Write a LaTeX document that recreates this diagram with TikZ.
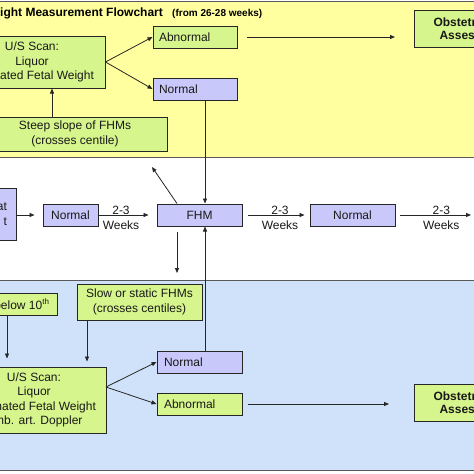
\documentclass[tikz,border=0pt]{standalone}
\usepackage{fontspec}
\setmainfont{Liberation Sans}
\usetikzlibrary{arrows.meta}
\definecolor{bandyellow}{RGB}{255,255,160}
\definecolor{bandblue}{RGB}{207,226,250}
\definecolor{boxgreen}{RGB}{214,245,140}
\definecolor{boxpurple}{RGB}{200,200,250}
\tikzset{
  txt/.style={font=\fontsize{12}{14.5}\selectfont, text=black!90},
  gbox/.style={txt, draw=black!85, line width=1pt, fill=boxgreen, inner sep=0pt, align=center},
  pbox/.style={txt, draw=black!85, line width=1pt, fill=boxpurple, inner sep=0pt, align=center},
  obox/.style={gbox, font=\fontsize{12}{13.3}\selectfont\bfseries, anchor=west, minimum height=37pt, text width=80pt, align=left, inner xsep=19pt},
  leftlab/.style={text width=72pt, align=left, inner xsep=6pt, inner ysep=0pt, minimum height=22pt},
  arr/.style={draw=black!85, line width=0.8pt, -{Triangle[length=5pt,width=4pt]}},
  band/.style={draw=black!65, line width=0.8pt},
}
\begin{document}
\begin{tikzpicture}[x=1pt,y=-1pt]
\useasboundingbox (0,0) rectangle (474,474);
\clip (0,0) rectangle (474,474);
% bands
\fill[white] (-5,-5) rectangle (480,480);
\draw[band, fill=bandyellow] (-5,1) rectangle (480,157);
\draw[band, fill=white] (-5,157) rectangle (480,280);
\draw[band, fill=bandblue] (-5,280) rectangle (480,470);

% titles
\node[font=\fontsize{12}{14}\selectfont\bfseries, anchor=base west, inner sep=0pt] (title) at (0,16) {ight Measurement Flowchart};
\node[font=\fontsize{10}{12}\selectfont\bfseries, anchor=base west, inner sep=0pt] (subtitle) at (172,16) {(from 26-28 weeks)};

% top band
\node[gbox, minimum width=146pt, minimum height=52pt] (usT) at (32,62) {U/S Scan:\\Liquor\\Estimated Fetal Weight};
\node[gbox, leftlab] (abT) at (195,37) {Abnormal};
\node[pbox, leftlab] (nT) at (195,89) {Normal};
\node[gbox, minimum width=184pt, minimum height=34pt] (steep) at (75,134) {Steep slope of FHMs\\(crosses centile)};
\node[obox] (obT) at (414,28.5) {Obstetric\\\hspace*{6pt}Assessment};

% middle band
\node[pbox, text width=38pt, align=right, inner xsep=9pt, minimum height=52pt] (start) at (-12,214) {at\\t};
\node[pbox, minimum width=55pt, minimum height=22pt] (nM1) at (70.5,215) {Normal};
\node[pbox, minimum width=85pt, minimum height=22pt] (fhm) at (199.5,215) {FHM};
\node[pbox, minimum width=85pt, minimum height=22pt] (nM2) at (352.5,215) {Normal};
\coordinate (mEnd) at (471,215);
\coordinate (vx) at (205,0);
\coordinate (dtip) at (152,167);
\coordinate (dStart) at (177,232);
\coordinate (dEnd) at (177,273);

% bottom band
\node[gbox, anchor=east, minimum height=22pt, inner xsep=8pt] (b10) at (58,304) {below 10\textsuperscript{th}};
\node[gbox, minimum width=125pt, minimum height=36pt] (slow) at (139.5,302) {Slow or static FHMs\\(crosses centiles)};
\node[gbox, minimum width=144pt, minimum height=66pt] (usB) at (34,400) {U/S Scan:\\Liquor\\Estimated Fetal Weight\\Umb. art. Doppler};
\node[pbox, leftlab, inner xsep=7pt, text width=71pt] (nB) at (199.5,362) {Normal};
\node[gbox, leftlab, inner xsep=7pt, text width=71pt] (abB) at (199.5,404) {Abnormal};
\node[obox] (obB) at (414,402.5) {Obstetric\\\hspace*{6pt}Assessment};
\coordinate (usBout) at (106,387);

% connectors top
\draw[arr] (usT.east) -- (abT.west);
\draw[arr] (usT.east) -- (nT.west);
\draw[arr] (steep.north -| 52,0) -- (usT.south -| 52,0);
\draw[arr, shorten <=9pt, shorten >=19pt] (abT.east) -- (abT.east -| obT.west);
\draw[arr] (nT.south -| vx) -- (fhm.north -| vx);

% connectors middle
\draw[arr, shorten >=8pt] (start.east |- nM1.west) -- (nM1.west);
\draw[arr, shorten >=8pt] (nM1.east) -- node[txt, xshift=-6.5pt, yshift=5pt] (l1a) {2-3} node[txt, xshift=-6.5pt, yshift=-10pt] (l1b) {Weeks} (fhm.west);
\draw[arr, shorten <=5pt, shorten >=5pt] (fhm.east) -- node[txt, xshift=4pt, yshift=5pt] (l2a) {2-3} node[txt, xshift=4pt, yshift=-10pt] (l2b) {Weeks} (nM2.west);
\draw[arr, shorten <=4pt] (nM2.east) -- node[txt, xshift=8pt, yshift=5pt] (l3a) {2-3} node[txt, xshift=8pt, yshift=-10pt] (l3b) {Weeks} (mEnd);
\draw[arr] (fhm.north -| dStart) -- (dtip);
\draw[arr] (dStart) -- (dEnd);

% connectors bottom
\draw[arr] (nB.north -| vx) -- (fhm.south -| vx);
\draw[arr, shorten >=8pt] (b10.south -| 7,0) -- (usB.north -| 7,0);
\draw[arr, shorten >=5pt] (slow.south -| 87,0) -- (usB.north -| 87,0);
\draw[arr] (usBout) -- (nB.west);
\draw[arr] (usBout) -- (abB.west);
\draw[arr, shorten <=5pt, shorten >=25pt] (abB.east) -- (abB.east -| obB.west);
\end{tikzpicture}
\end{document}
